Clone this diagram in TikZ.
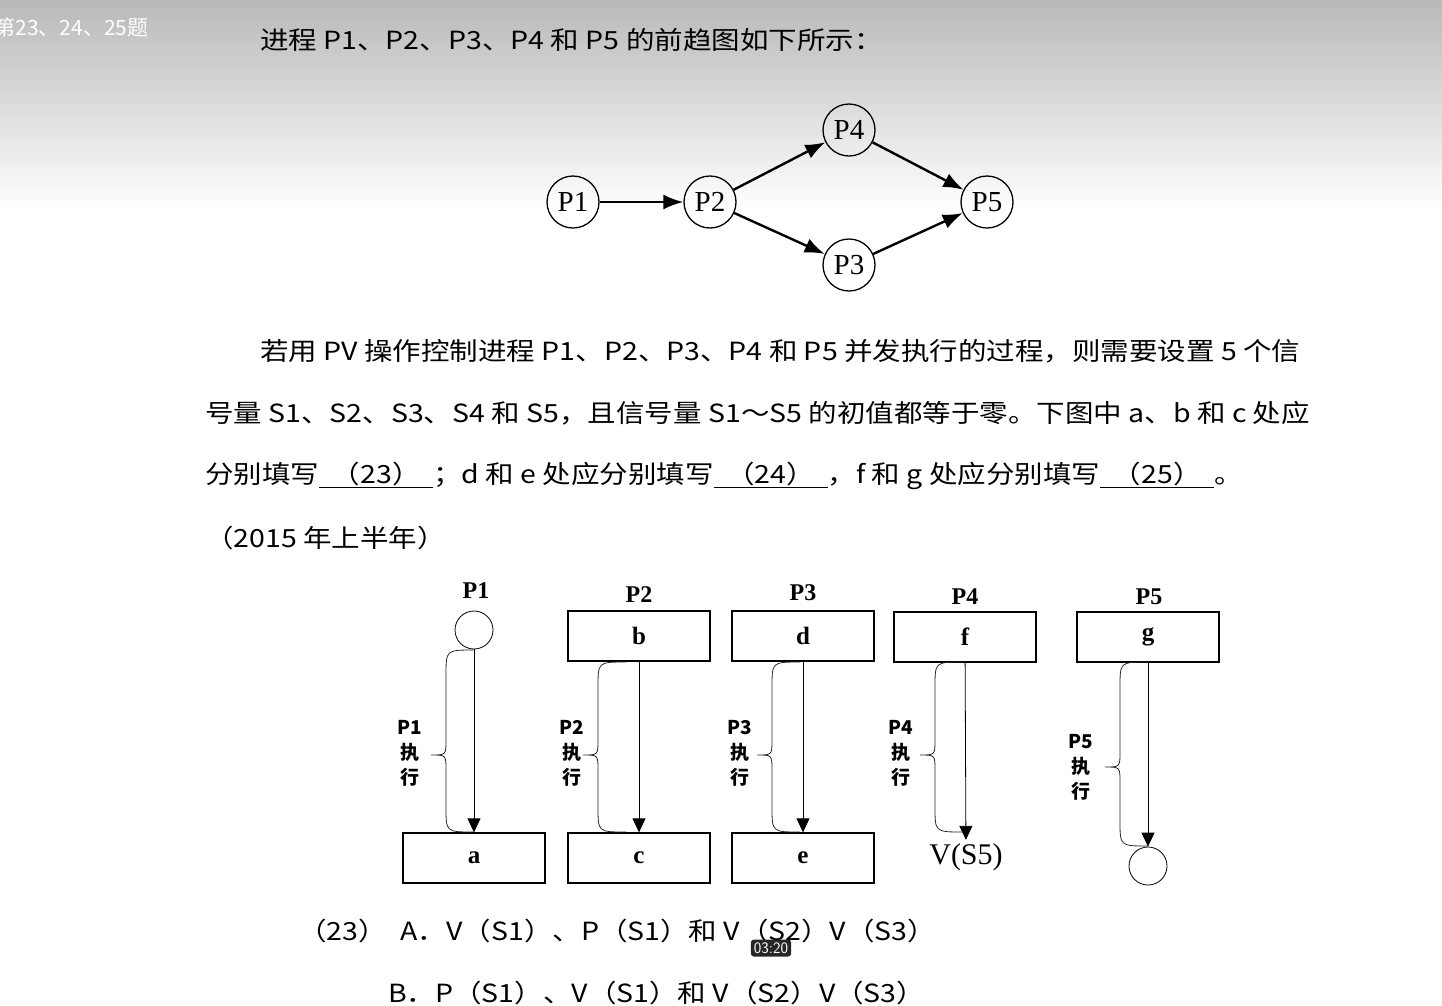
\documentclass[tikz,border=0pt]{standalone}
\usepackage{fontspec}
\setmainfont{Liberation Serif}
\newfontfamily\cjk{Noto Sans CJK SC}
\usetikzlibrary{arrows.meta}
\newcommand\mybrace[4]{% ax, ytop, ybot, mid
  \draw[thick,gray!30!black] (#1,#2) .. controls (#1-28,#2) .. (#1-28,#2+25) -- (#1-28,#4-15) .. controls (#1-28,#4) .. (#1-43,#4) .. controls (#1-28,#4) .. (#1-28,#4+15) -- (#1-28,#3-25) .. controls (#1-28,#3) .. (#1,#3);}
\newcommand\wide[1]{\scalebox{1.14}[1]{#1}}
\begin{document}
\begin{tikzpicture}[x=1pt,y=-1pt,
  pc/.style={circle,draw,line width=1.3pt,minimum size=52pt,inner sep=0pt,font=\fontsize{29}{30}\selectfont},
  garr/.style={line width=2.4pt,-{Latex[length=20pt,width=15pt]}},
  bx/.style={draw,line width=1.3pt,minimum width=142pt,minimum height=50pt,inner sep=0pt,font=\fontsize{25}{26}\selectfont\bfseries},
  varr/.style={thick,-{Triangle[length=14pt,width=13pt]}},
  txt/.style={anchor=west,inner sep=0pt,font=\cjk\fontsize{25}{30}\selectfont},
  plab/.style={font=\fontsize{24}{24}\selectfont\bfseries},
  side/.style={align=center,font=\cjk\fontsize{19}{25}\selectfont\bfseries}]
\useasboundingbox (0,0) rectangle (1442,1005);
\shade[top color=gray!55,bottom color=white] (0,0) rectangle (1442,210);
\node[anchor=west,text=white,font=\cjk\fontsize{21}{24}\selectfont] (hdr) at (-9,27) {第23、24、25题};
\node[txt] (t0) at (260,40) {\wide{进程 P1、P2、P3、P4 和 P5 的前趋图如下所示：}};
% precedence graph
\node[pc] (g1) at (573,202) {P1};
\node[pc] (g2) at (710,202) {P2};
\node[pc] (g4) at (849,130) {P4};
\node[pc] (g3) at (849,265) {P3};
\node[pc] (g5) at (987,202) {P5};
\draw[garr] (g1) -- (g2);
\draw[garr] (g2) -- (g4);
\draw[garr] (g2) -- (g3);
\draw[garr] (g4) -- (g5);
\draw[garr] (g3) -- (g5);
% paragraph
\node[txt] (t1) at (260,351) {\wide{若用 PV 操作控制进程 P1、P2、P3、P4 和 P5 并发执行的过程，则需要设置 5 个信}};
\node[txt] (t2) at (205,413) {\wide{号量 S1、S2、S3、S4 和 S5，且信号量 S1～S5 的初值都等于零。下图中 a、b 和 c 处应}};
\node[txt] (t3) at (205,476) {\wide{分别填写\underline{\makebox[100pt]{（23）}}；d 和 e 处应分别填写\underline{\makebox[100pt]{（24）}}，f 和 g 处应分别填写\underline{\makebox[100pt]{（25）}}。}};
\node[txt] (t4) at (205,538) {\wide{（2015 年上半年）}};
% bottom diagram
\node[plab] (l1) at (476,591) {P1};
\node[plab] (l2) at (639,595) {P2};
\node[plab] (l3) at (803,593) {P3};
\node[plab] (l4) at (965,597) {P4};
\node[plab] (l5) at (1149,597) {P5};
\node[circle,draw,thick,minimum size=38pt,inner sep=0pt] (c1) at (474,630) {};
\node[bx] (b) at (639,636) {b};
\node[bx] (d) at (803,636) {d};
\node[bx] (f) at (965,637) {f};
\node[bx] (g) at (1148,637) {g};
\node[bx] (a) at (474,858) {a};
\node[bx] (c) at (639,858) {c};
\node[bx] (e) at (803,858) {e};
\node[font=\fontsize{30}{30}\selectfont] (v5) at (966,857) {V(S5)};
\node[circle,draw,thick,minimum size=38pt,inner sep=0pt] (c5) at (1148,866) {};
\draw[varr] (c1) -- (a);
\draw[varr] (b) -- (c);
\draw[varr] (d) -- (e);
\draw[varr] (f) -- (v5);
\draw[varr] (g) -- (c5);
\mybrace{474}{650}{832}{755}
\mybrace{626}{662}{832}{755}
\mybrace{800}{662}{832}{755}
\mybrace{963}{662}{832}{755}
\mybrace{1148}{662}{846}{767}
\node[side] (s1) at (410,753) {P1\\执\\行};
\node[side] (s2) at (572,753) {P2\\执\\行};
\node[side] (s3) at (740,753) {P3\\执\\行};
\node[side] (s4) at (901,753) {P4\\执\\行};
\node[side] (s5) at (1081,767) {P5\\执\\行};
% options
\node[txt] (o1) at (298,931) {\wide{（23）\hspace{12pt}A．V（S1）、P（S1）和 V（S2）V（S3）}};
\node[txt] (o2) at (388,993) {\wide{B．P（S1）、V（S1）和 V（S2）V（S3）}};
\node[fill=black!85,text=white,rounded corners=3pt,inner sep=3pt,font=\fontsize{16}{18}\selectfont\sffamily] (ts) at (771,948) {03:20};
\end{tikzpicture}
\end{document}
